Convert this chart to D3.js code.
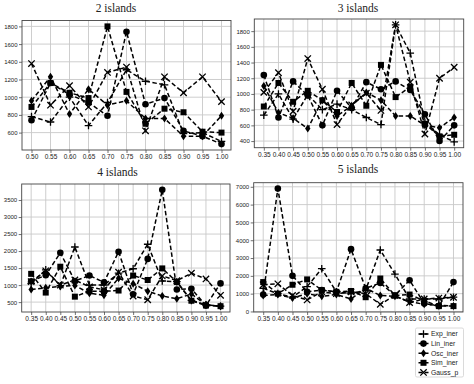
<!DOCTYPE html>
<html lang="en">
<head>
<meta charset="UTF-8" />
<title>islands</title>
<style>
  body { margin: 0; background: #fff; }
  text { fill: #222; }
</style>
</head>
<body>
<script src="https://cdn.jsdelivr.net/npm/d3@7"></script>
<script>
const width = 474
const height = 384

const names = ['Exp_iner', 'Lin_iner', 'Osc_iner', 'Sim_iner', 'Gauss_p']
const titles = ['2 islands', '3 islands', '4 islands', '5 islands']

const rate2 = [0.50, 0.55, 0.60, 0.65, 0.70, 0.75, 0.80, 0.85, 0.90, 0.95, 1.00]
const rate = [0.35, 0.40, 0.45, 0.50, 0.55, 0.60, 0.65, 0.70, 0.75, 0.80, 0.85, 0.90, 0.95, 1.00]

// 2 islands
const exp2 = [780, 720, 1000, 680, 940, 1310, 1180, 1140, 590, 600, 500]
const lin2 = [740, 1160, 1030, 940, 790, 1740, 920, 990, 620, 560, 470]
const osc2 = [960, 1230, 810, 1090, 910, 960, 760, 760, 560, 560, 790]
const sim2 = [890, 1160, 1050, 990, 1800, 1060, 700, 870, 830, 610, 600]
const gauss2 = [1380, 910, 1130, 890, 1280, 1340, 620, 1230, 1050, 1230, 950]

// 3 islands
const exp3 = [730, 1000, 680, 990, 800, 870, 800, 700, 610, 1880, 1520, 640, 480, 390]
const lin3 = [1240, 700, 1160, 980, 600, 1040, 820, 1150, 1060, 1160, 1050, 740, 400, 600]
const osc3 = [1100, 760, 690, 560, 920, 720, 850, 1020, 920, 720, 720, 600, 570, 700]
const sim3 = [840, 1140, 900, 1040, 920, 770, 1140, 850, 1370, 960, 1090, 620, 460, 480]
const gauss3 = [1020, 1270, 780, 1450, 1060, 610, 860, 1010, 790, 1880, 1150, 490, 1200, 1340]

// 4 islands
const exp4 = [1050, 1450, 980, 2120, 1000, 1000, 1350, 1480, 2200, 1120, 1100, 550, 420, 380]
const lin4 = [1110, 1290, 1950, 1120, 1280, 1080, 1980, 730, 1770, 3800, 870, 890, 400, 1050]
const osc4 = [870, 920, 960, 990, 760, 700, 1200, 1040, 820, 680, 600, 740, 420, 380]
const sim4 = [1330, 780, 1540, 660, 820, 820, 840, 1280, 1150, 1490, 1090, 540, 400, 380]
const gauss4 = [1100, 1420, 1000, 1150, 950, 860, 1380, 680, 570, 1270, 1130, 1350, 1180, 700]

// 5 islands
const exp5 = [1300, 1000, 800, 1400, 2400, 1100, 1000, 1200, 3450, 2100, 700, 700, 700, 800]
const lin5 = [950, 6900, 2000, 1100, 1200, 1100, 3500, 1300, 1600, 900, 1750, 450, 300, 1650]
const osc5 = [900, 950, 750, 1000, 850, 950, 700, 1300, 900, 850, 550, 400, 350, 300]
const sim5 = [1650, 1000, 1500, 1800, 1200, 1100, 1150, 800, 1850, 900, 950, 600, 300, 300]
const gauss5 = [1500, 1550, 900, 650, 1100, 1000, 1100, 1000, 400, 900, 500, 700, 750, 800]

const yTicks2 = [600, 800, 1000, 1200, 1400, 1600, 1800]
const yTicks3 = [400, 600, 800, 1000, 1200, 1400, 1600, 1800]
const yTicks4 = [500, 1000, 1500, 2000, 2500, 3000, 3500]
const yTicks5 = [0, 1000, 2000, 3000, 4000, 5000, 6000, 7000]

const panels = [
  { x: rate2, series: [exp2, lin2, osc2, sim2, gauss2], yTicks: yTicks2 },
  { x: rate, series: [exp3, lin3, osc3, sim3, gauss3], yTicks: yTicks3 },
  { x: rate, series: [exp4, lin4, osc4, sim4, gauss4], yTicks: yTicks4 },
  { x: rate, series: [exp5, lin5, osc5, sim5, gauss5], yTicks: yTicks5 }
]

// frame boxes and title spots
const boxes = [
  { l: 22, r: 231, t: 20.5, b: 150, tx: 116, ty: 12 },
  { l: 254.3, r: 463.7, t: 19, b: 147.7, tx: 358, ty: 12 },
  { l: 21.7, r: 230, t: 184, b: 312, tx: 117.5, ty: 175.5 },
  { l: 253.7, r: 463, t: 182.7, b: 312, tx: 358, ty: 172.5 }
]

const svg = d3.select('body').append('svg')
  .attr('width', width).attr('height', height)

function pad(ext) {
  const m = (ext[1] - ext[0]) * 0.05
  return [ext[0] - m, ext[1] + m]
}

function marker(g, k) {
  if (k === 0) {
    g.append('path').attr('d', 'M-3.8,0H3.8M0,-3.8V3.8')
      .attr('stroke', '#000').attr('stroke-width', 1.3).attr('fill', 'none')
  } else if (k === 1) {
    g.append('circle').attr('r', 3.3).attr('fill', '#000')
  } else if (k === 2) {
    g.append('path').attr('d', 'M0,-4L2.7,0L0,4L-2.7,0Z').attr('fill', '#000')
  } else if (k === 3) {
    g.append('rect').attr('x', -3).attr('y', -3)
      .attr('width', 6).attr('height', 6).attr('fill', '#000')
  } else {
    g.append('path').attr('d', 'M-3.2,-3.2L3.2,3.2M-3.2,3.2L3.2,-3.2')
      .attr('stroke', '#000').attr('stroke-width', 1.3).attr('fill', 'none')
  }
}

panels.forEach((p, pi) => {
  const bx = boxes[pi]
  const x = d3.scaleLinear().domain(pad(d3.extent(p.x))).range([bx.l, bx.r])
  const y = d3.scaleLinear().domain(pad(d3.extent(p.series.flat()))).range([bx.b, bx.t])

  const g = svg.append('g')

  // grid
  g.append('g').selectAll('line').data(p.x).enter().append('line')
    .attr('x1', d => x(d)).attr('x2', d => x(d))
    .attr('y1', bx.t).attr('y2', bx.b)
    .attr('stroke', '#c8c8c8').attr('stroke-width', 0.9)
  g.append('g').selectAll('line').data(p.yTicks).enter().append('line')
    .attr('x1', bx.l).attr('x2', bx.r)
    .attr('y1', d => y(d)).attr('y2', d => y(d))
    .attr('stroke', '#c8c8c8').attr('stroke-width', 0.9)

  // axes
  const xAxis = g.append('g')
    .attr('transform', `translate(0,${bx.b})`)
    .call(d3.axisBottom(x).tickValues(p.x).tickFormat(d3.format('.2f')).tickSize(3).tickPadding(1.5).tickSizeOuter(0))
  xAxis.select('.domain').remove()
  xAxis.selectAll('text').attr('font-family', 'Liberation Sans, Arial, sans-serif').attr('font-size', 6.5).attr('fill', '#333')
  xAxis.selectAll('line').attr('stroke', '#333').attr('stroke-width', 0.7)

  const yAxis = g.append('g')
    .attr('transform', `translate(${bx.l},0)`)
    .call(d3.axisLeft(y).tickValues(p.yTicks).tickFormat(d3.format('d')).tickSize(3).tickPadding(1.5).tickSizeOuter(0))
  yAxis.select('.domain').remove()
  yAxis.selectAll('text').attr('font-family', 'Liberation Sans, Arial, sans-serif').attr('font-size', 6).attr('fill', '#333')
  yAxis.selectAll('line').attr('stroke', '#333').attr('stroke-width', 0.7)

  // frame
  g.append('rect')
    .attr('x', bx.l).attr('y', bx.t)
    .attr('width', bx.r - bx.l).attr('height', bx.b - bx.t)
    .attr('fill', 'none').attr('stroke', '#444').attr('stroke-width', 0.9)

  // series
  const line = d3.line().x((d, i) => x(p.x[i])).y(d => y(d))
  p.series.forEach((vals, k) => {
    g.append('path')
      .datum(vals)
      .attr('d', line)
      .attr('fill', 'none')
      .attr('stroke', '#000')
      .attr('stroke-width', 1.5)
      .attr('stroke-dasharray', '4.5,2.5')
    g.append('g').selectAll('g').data(vals).enter().append('g')
      .attr('transform', (d, i) => `translate(${x(p.x[i])},${y(d)})`)
      .each(function () { marker(d3.select(this), k) })
  })

  // title
  svg.append('text')
    .attr('x', bx.tx).attr('y', bx.ty)
    .attr('text-anchor', 'middle')
    .attr('font-family', 'Liberation Serif, Times New Roman, serif')
    .attr('font-size', 11.5)
    .attr('fill', '#111')
    .text(titles[pi])
})

// legend
const lg = svg.append('g').attr('transform', 'translate(415.5,328)')
lg.append('rect')
  .attr('width', 48).attr('height', 49).attr('rx', 1.5)
  .attr('fill', '#fff').attr('stroke', '#d0d0d0').attr('stroke-width', 0.8)
names.forEach((n, k) => {
  const row = lg.append('g').attr('transform', `translate(0,${6 + k * 9.6})`)
  row.append('line')
    .attr('x1', 3).attr('x2', 13).attr('y1', 0).attr('y2', 0)
    .attr('stroke', '#000').attr('stroke-width', 1.5).attr('stroke-dasharray', '4,2.4')
  const m = row.append('g').attr('transform', 'translate(8,0)')
  marker(m, k)
  row.append('text')
    .attr('x', 15.5).attr('y', 2.4)
    .attr('font-family', 'Liberation Sans, Arial, sans-serif')
    .attr('font-size', 6.8)
    .attr('fill', '#333')
    .text(n)
})
</script>
</body>
</html>
